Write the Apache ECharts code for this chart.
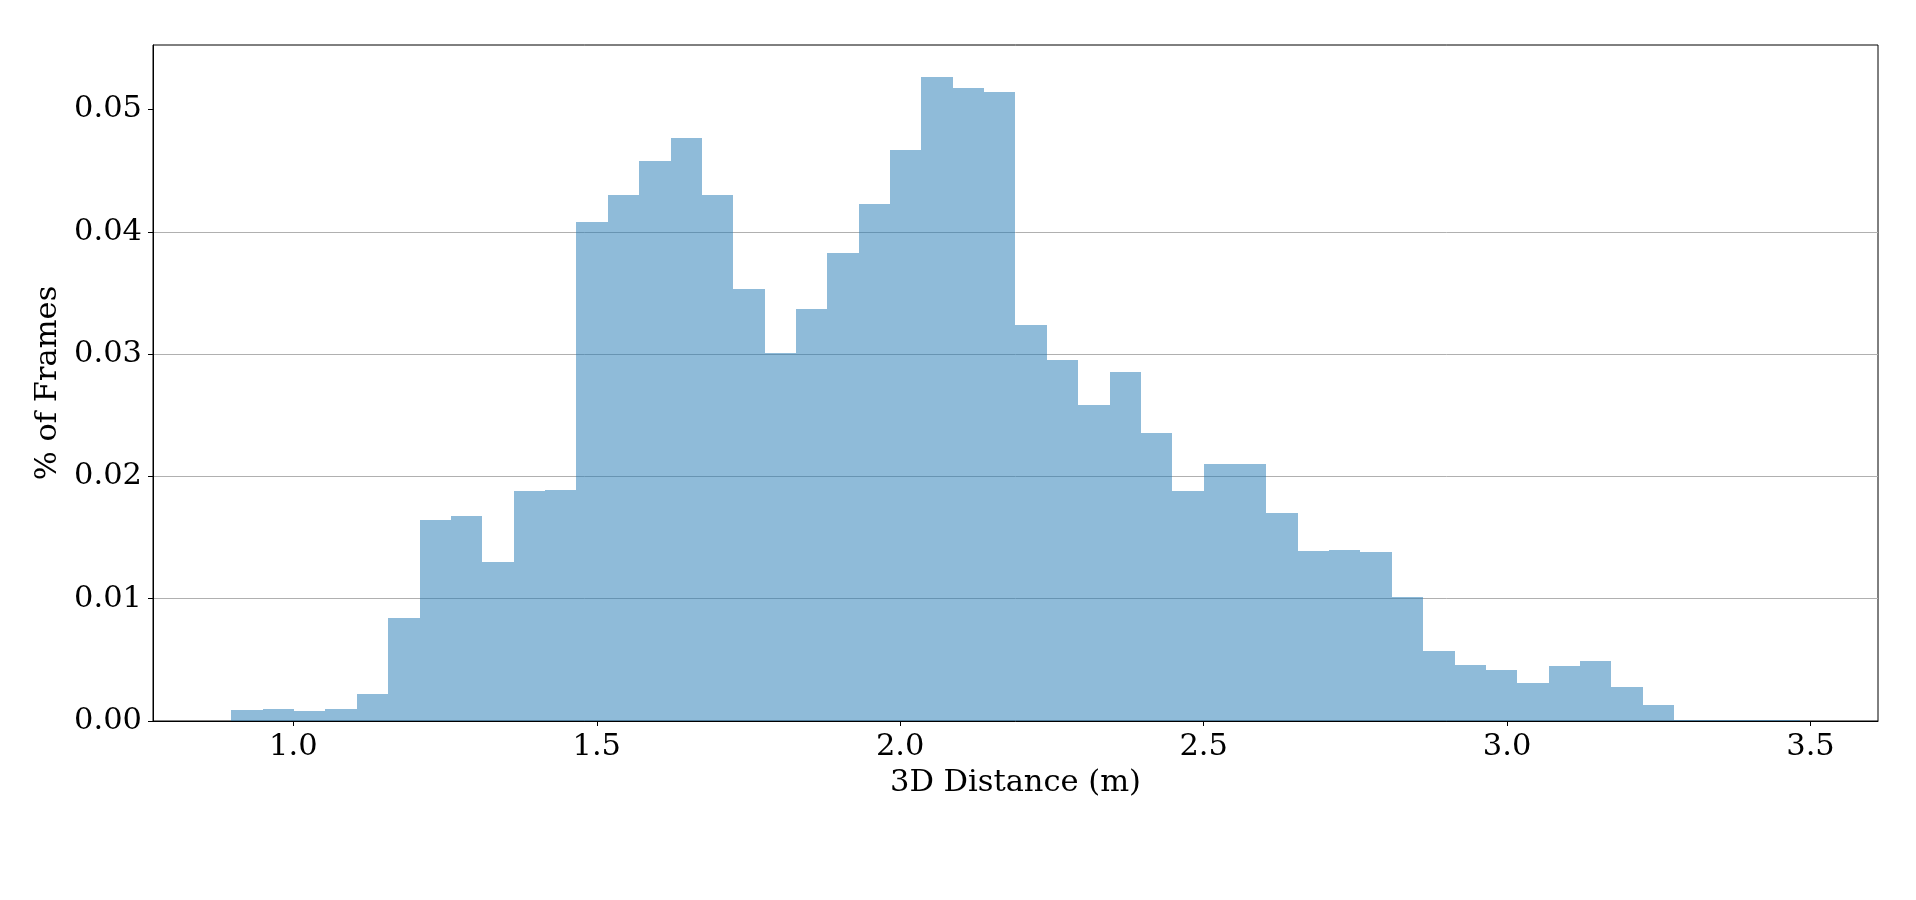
<!DOCTYPE html>
<html>
<head>
<meta charset="utf-8">
<script src="https://cdn.jsdelivr.net/npm/echarts@6/dist/echarts.min.js"></script>
<style>
html,body{margin:0;padding:0;background:#fff;}
#chart{width:1916px;height:900px;}
</style>
</head>
<body>
<div id="chart"></div>
<script>
// Histogram bin edges (m)
var binEdges = [0.898,0.950,1.001,1.053,1.105,1.156,1.208,1.260,1.311,1.363,1.415,1.466,1.518,1.570,1.622,1.673,1.725,1.777,1.828,1.880,1.932,1.983,2.035,2.087,2.138,2.190,2.242,2.293,2.345,2.397,2.448,2.500,2.552,2.603,2.655,2.707,2.758,2.810,2.862,2.914,2.965,3.017,3.069,3.120,3.172,3.224,3.275,3.327,3.379,3.430,3.482];
// Fraction of frames per bin
var binValues = [0.0009,0.00101,0.00082,0.00101,0.00224,0.0084,0.01644,0.01674,0.0130,0.01882,0.0189,0.04077,0.04298,0.04577,0.04765,0.04298,0.03536,0.03012,0.03372,0.03824,0.04224,0.04667,0.05265,0.05175,0.05142,0.03238,0.02954,0.02582,0.02856,0.02354,0.01881,0.02100,0.02100,0.01699,0.01387,0.01395,0.01379,0.0101,0.00569,0.0046,0.00419,0.00312,0.00451,0.00492,0.00279,0.00131,0.00008,0.00008,0.00008,0.00008];
var xTicks = [1.0,1.5,2.0,2.5,3.0,3.5];
var yTicks = [0,0.01,0.02,0.03,0.04,0.05];
var xLabel = '3D Distance (m)';
var yLabel = '% of Frames';

var data = binValues.map(function(v,i){ return [binEdges[i], binEdges[i+1], v]; });

var chart = echarts.init(document.getElementById('chart'), null, {renderer:'canvas'});
var font = 'DejaVu Serif';
chart.setOption({
  animation:false,
  backgroundColor:'#fff',
  grid:{left:153, top:45, width:1725, height:676, show:true, borderColor:'#000', borderWidth:1, backgroundColor:'transparent'},
  xAxis:{
    type:'value', min:0.7688, max:3.6112,
    name:xLabel, nameLocation:'middle', nameGap:45,
    nameTextStyle:{fontFamily:font, fontSize:30.5, color:'#000'},
    axisLine:{show:true, lineStyle:{color:'#000', width:1}},
    axisTick:{show:true, length:5, lineStyle:{color:'#000', width:1}, customValues:xTicks},
    axisLabel:{fontFamily:font, fontSize:30.5, color:'#000', margin:11, customValues:xTicks,
      formatter:function(v){return Number(v).toFixed(1);}},
    splitLine:{show:false}
  },
  yAxis:{
    type:'value', min:0, max:0.05528,
    name:yLabel, nameLocation:'middle', nameGap:83,
    nameTextStyle:{fontFamily:font, fontSize:30.5, color:'#000'},
    axisLine:{show:true, lineStyle:{color:'#000', width:1}},
    axisTick:{show:true, length:5, lineStyle:{color:'#000', width:1}, customValues:yTicks},
    axisLabel:{fontFamily:font, fontSize:30.5, color:'#000', margin:11, customValues:yTicks,
      formatter:function(v){return Number(v).toFixed(2);}},
    interval:0.01,
    splitLine:{show:true, showMinLine:false, showMaxLine:false, lineStyle:{color:'#b0b0b0', width:1}}
  },
  series:[{
    type:'custom',
    data:data,
    encode:{x:[0,1], y:2},
    renderItem:function(params, api){
      var p0 = api.coord([api.value(0), 0]);
      var p1 = api.coord([api.value(1), api.value(2)]);
      var x0 = Math.round(p0[0]), x1 = Math.round(p1[0]);
      var yb = Math.round(p0[1]), yt = Math.round(p1[1]);
      return {
        type:'rect',
        shape:{x:x0, y:yt, width:x1-x0, height:yb-yt},
        style:{fill:'rgba(31,119,180,0.5)'}
      };
    }
  }]
});
</script>
</body>
</html>
